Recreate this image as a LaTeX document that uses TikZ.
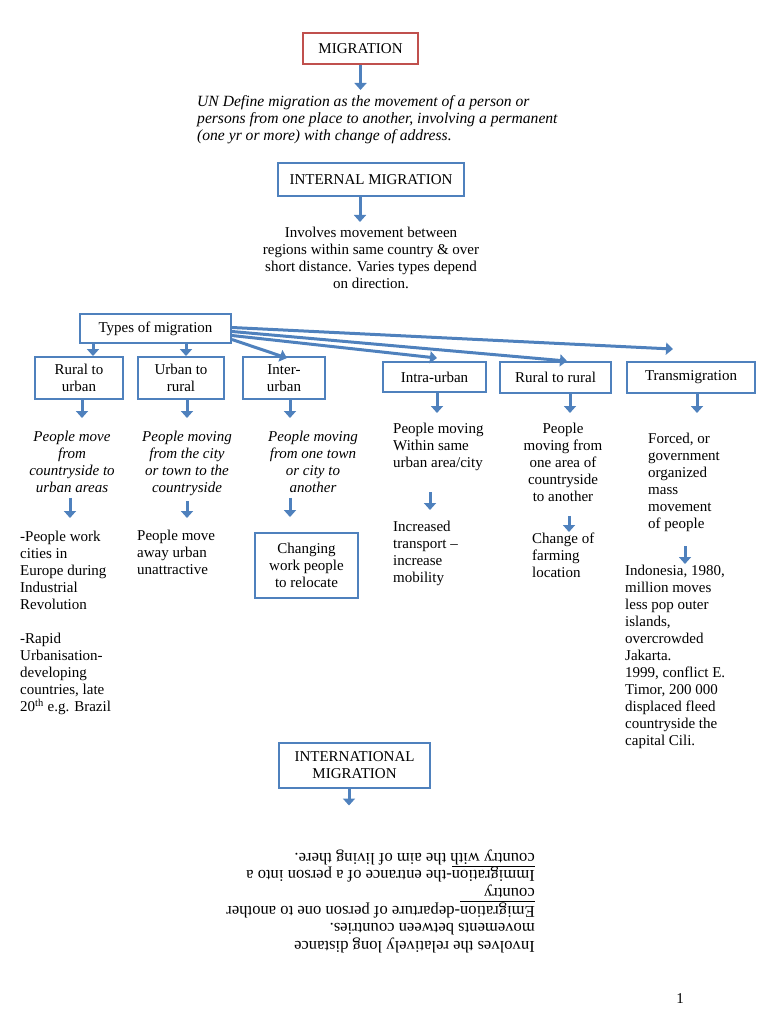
\documentclass[tikz,border=0pt]{standalone}
\usepackage{fontspec}
\setmainfont{Liberation Serif}
\usetikzlibrary{arrows.meta}

\definecolor{boxblue}{RGB}{79,129,189}
\definecolor{boxred}{RGB}{192,80,77}

\begin{document}
\fontsize{15}{17}\selectfont
\begin{tikzpicture}[x=1pt,y=-1pt,
        box/.style={draw=boxblue,line width=1.9pt,inner sep=0pt,align=center},
        txt/.style={inner sep=0pt,align=left,anchor=north west},
        ctxt/.style={inner sep=0pt,align=center,anchor=north},
        arr/.style={draw=boxblue,line width=3pt,-{Triangle[length=7pt,width=12pt]},shorten >=5pt}]
        \useasboundingbox (0,0) rectangle (768,1024);
        \node[box,draw=boxred,minimum width=115pt,minimum height=31pt] (mig) at (360.5,48.5) {MIGRATION};
        \node[txt,font=\fontsize{15.6}{17}\selectfont\itshape] (undef) at (197,95) {UN Define migration as the movement of a person or\\persons from one place to another, involving a permanent\\(one yr or more) with change of address.};
        \node[box,minimum width=186pt,minimum height=33pt] (internal) at (371,179.5) {INTERNAL MIGRATION};
        \node[ctxt] (involves) at (371,227) {Involves movement between\\regions within same country \& over\\short distance. Varies types depend\\on direction.};
        \draw[arr] (mig.south) -- (mig.south |- undef.north);
        \draw[arr] ([xshift=-11pt]internal.south) -- ([xshift=-11pt]internal.south |- involves.north);

        \node[box,minimum width=151pt,minimum height=29pt] (types) at (155.5,328.5) {Types of migration};
        \node[box,minimum width=88pt,minimum height=42pt] (r2u) at (79,378) {Rural to\\urban};
        \node[box,minimum width=86pt,minimum height=42pt] (u2r) at (181,378) {Urban to\\rural};
        \node[box,minimum width=82pt,minimum height=42pt] (inter) at (284,378) {Inter-\\urban};
        \node[box,minimum width=103pt,minimum height=30pt] (intra) at (434.5,377) {Intra-urban};
        \node[box,minimum width=111pt,minimum height=31pt] (r2r) at (555.5,377.5) {Rural to rural};
        \node[box,minimum width=128pt,minimum height=31pt] (trans) at (691,377.5) {Transmigration};
        \draw[arr,shorten >=0pt] ([xshift=-62.5pt]types.south) -- ([xshift=-62.5pt]types.south |- r2u.north);
        \draw[arr,shorten >=0pt] ([xshift=30.5pt]types.south) -- ([xshift=30.5pt]types.south |- u2r.north);
        \draw[arr,shorten >=0pt] ([yshift=-11pt]types.east) -- ([xshift=3pt,yshift=-2pt]inter.north);
        \draw[arr,shorten >=0pt] ([yshift=-7pt]types.east) -- ([xshift=2.5pt,yshift=3pt]intra.north);
        \draw[arr,shorten >=0pt] ([yshift=-3pt]types.east) -- ([xshift=11.5pt]r2r.north);
        \draw[arr,shorten >=0pt] ([yshift=1pt]types.east) -- ([xshift=-18pt,yshift=12pt]trans.north);

        \node[ctxt,font=\itshape] (d1) at (72,431) {People move\\from\\countryside to\\urban areas};
        \node[ctxt,font=\itshape] (d2) at (187,431) {People moving\\from the city\\or town to the\\countryside};
        \node[ctxt,font=\itshape] (d3) at (313,431) {People moving\\from one town\\or city to\\another};
        \node[txt] (f1) at (393,423) {People moving\\Within same\\urban area/city};
        \node[ctxt] (f2) at (563,423) {People\\moving from\\one area of\\countryside\\to another};
        \node[txt] (f3) at (648,433) {Forced, or\\government\\organized\\mass\\movement\\of people};
        \draw[arr,shorten >=13pt] ([xshift=3pt]r2u.south) -- ([xshift=3pt]r2u.south |- d1.north);
        \draw[arr,shorten >=13pt] ([xshift=6pt]u2r.south) -- ([xshift=6pt]u2r.south |- d2.north);
        \draw[arr,shorten >=13pt] ([xshift=6pt]inter.south) -- ([xshift=6pt]inter.south |- d3.north);
        \draw[arr,shorten >=10pt] ([xshift=2.5pt]intra.south) -- ([xshift=2.5pt]intra.south |- f1.north);
        \draw[arr,shorten >=10pt] ([xshift=14.5pt]r2r.south) -- ([xshift=14.5pt]r2r.south |- f2.north);
        \draw[arr,shorten >=20pt] ([xshift=6pt]trans.south) -- ([xshift=6pt]trans.south |- f3.north);

        \node[txt] (e1) at (20,531) {-People work\\cities in\\Europe during\\Industrial\\Revolution\\[17pt]-Rapid\\Urbanisation-\\developing\\countries, late\\20\textsuperscript{th} e.g. Brazil};
        \node[txt] (e2) at (137,530) {People move\\away urban\\unattractive};
        \node[box,minimum width=103pt,minimum height=65pt] (change) at (306.5,565.5) {Changing\\work people\\to relocate};
        \node[txt] (g1) at (393,521) {Increased\\transport --\\increase\\mobility};
        \node[txt] (g2) at (532,533) {Change of\\farming\\location};
        \node[txt] (g3) at (625,565) {Indonesia, 1980,\\million moves\\less pop outer\\islands,\\overcrowded\\Jakarta.\\1999, conflict E.\\Timor, 200 000\\displaced fleed\\countryside the\\capital Cili.};
        \draw[arr,shorten <=5pt,shorten >=13pt] ([xshift=-2pt]d1.south) -- ([xshift=-2pt]d1.south |- e1.north);
        \draw[arr,shorten <=5pt,shorten >=12pt] (d2.south) -- (d2.south |- e2.north);
        \draw[arr,shorten <=5pt,shorten >=15pt] ([xshift=-23pt]d3.south) -- ([xshift=-23pt]d3.south |- change.north);
        \draw[arr,shorten <=21pt,shorten >=11pt] ([xshift=37pt]f1.south west) -- ([xshift=37pt]f1.south west |- g1.north);
        \draw[arr,shorten <=14pt,shorten >=1pt] ([xshift=6pt]f2.south) -- ([xshift=6pt]f2.south |- g2.north);
        \draw[arr,shorten <=14pt,shorten >=1pt] ([xshift=37pt]f3.south west) -- ([xshift=37pt]f3.south west |- g3.north);

        \node[box,minimum width=151pt,minimum height=45pt] (intl) at (354.5,765.5) {INTERNATIONAL\\MIGRATION};
        \node[txt,rotate=180,font=\fontsize{16.6}{17.6}\selectfont] (intltxt) at (535,953) {Involves the relatively long distance\\movements between countries.\\\underline{Emigration}-departure of person one to another\\country\\\underline{Immigration}-the entrance of a person into a\\country with the aim of living there.};
        \draw[arr,shorten >=44pt] ([xshift=-5.5pt]intl.south) -- ([xshift=-5.5pt]intl.south |- intltxt.south);
        \node[inner sep=0pt] (pagenum) at (680,999) {1};
\end{tikzpicture}
\end{document}
